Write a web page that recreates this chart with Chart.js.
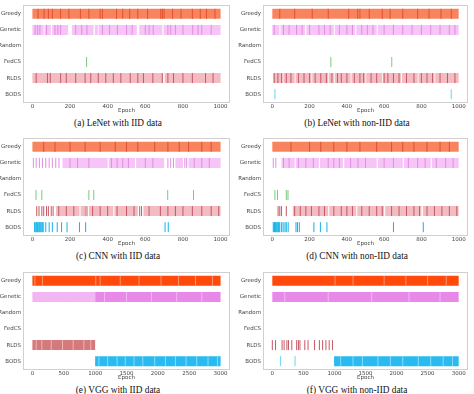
<!DOCTYPE html>
<html>
<head>
<meta charset="utf-8">
<script src="https://cdn.jsdelivr.net/npm/chart.js@4.4.1/dist/chart.umd.min.js"></script>
<style>
  body { margin: 0; background: #fff; width: 474px; height: 394px; overflow: hidden; position: relative; }
  canvas { position: absolute; }
  .cap { position: absolute; width: 220px; text-align: center; font-family: "Liberation Serif", serif; font-size: 9.3px; line-height: 11px; color: #111; }
</style>
</head>
<body>
<canvas id="a" style="left:0;top:-1px" width="236" height="115"></canvas>
<canvas id="b" style="left:237px;top:-1px" width="237" height="115"></canvas>
<canvas id="c" style="left:0;top:132px" width="236" height="115"></canvas>
<canvas id="d" style="left:237px;top:132px" width="237" height="115"></canvas>
<canvas id="e" style="left:0;top:266px" width="236" height="115"></canvas>
<canvas id="f" style="left:237px;top:266px" width="237" height="115"></canvas>
<div class="cap" style="left:8px;top:118px">(a) LeNet with IID data</div>
<div class="cap" style="left:247px;top:118px">(b) LeNet with non-IID data</div>
<div class="cap" style="left:8px;top:251px">(c) CNN with IID data</div>
<div class="cap" style="left:247px;top:251px">(d) CNN with non-IID data</div>
<div class="cap" style="left:8px;top:385px">(e) VGG with IID data</div>
<div class="cap" style="left:247px;top:385px">(f) VGG with non-IID data</div>
<script>
const methods = ["Greedy", "Genetic", "Random", "FedCS", "RLDS", "BODS"];
const epochTicks1000 = [0, 200, 400, 600, 800, 1000];
const epochTicks3000 = [0, 500, 1000, 1500, 2000, 2500, 3000];

// (a) LeNet, IID
const aGreedyBands = [[0, 1000]];
const aGreedyTicks = [30, 62, 85, 106, 150, 194, 255, 300, 360, 372, 447, 480, 517, 560, 612, 682, 691, 700, 745, 790, 850, 892, 925, 970];
const aGeneticBands = [[0, 60], [64, 98], [104, 190], [210, 325], [332, 348], [352, 555], [568, 690], [697, 1000]];
const aGeneticTicks = [15, 28, 40, 75, 120, 135, 150, 230, 262, 290, 372, 410, 452, 500, 530, 600, 620, 642, 720, 735, 760, 800, 852, 880, 900, 950];
const aFedcsTicks = [288];
const aRldsBands = [[0, 695], [703, 1000]];
const aRldsTicks = [20, 80, 95, 150, 180, 230, 280, 310, 350, 390, 430, 470, 520, 560, 590, 640, 690, 720, 750, 800, 850, 920, 960];

// (b) LeNet, non-IID
const bGreedyBands = [[0, 1000]];
const bGreedyTicks = [40, 120, 214, 300, 410, 458, 470, 520, 590, 632, 700, 780, 841, 905, 960];
const bGeneticBands = [[0, 38], [44, 176], [183, 330], [336, 445], [451, 560], [566, 1000]];
const bGeneticTicks = [10, 60, 90, 130, 160, 200, 250, 280, 310, 360, 400, 430, 480, 510, 540, 600, 650, 700, 750, 800, 850, 900, 950, 980];
const bFedcsTicks = [314, 641];
const bRldsBands = [[5, 55], [59, 120], [125, 210], [214, 300], [304, 330], [335, 420], [425, 500], [504, 590], [594, 690], [695, 780], [784, 870], [874, 1000]];
const bRldsTicks = [10, 30, 50, 75, 100, 140, 170, 200, 230, 260, 290, 320, 350, 370, 400, 440, 470, 490, 530, 560, 600, 620, 650, 680, 720, 760, 800, 830, 860, 900, 940, 980];
const bBodsTicks = [14, 960];

// (c) CNN, IID
const cGreedyBands = [[0, 1000]];
const cGreedyTicks = [60, 120, 200, 280, 360, 440, 500, 560, 650, 720, 780, 830, 900, 950];
const cGeneticBands = [[160, 400], [406, 545], [551, 700], [760, 800], [830, 1000]];
const cGeneticTicks = [5, 20, 37, 54, 71, 89, 106, 124, 141, 200, 240, 300, 420, 450, 480, 510, 600, 640, 720, 735, 750, 810, 820, 860, 900, 940];
const cFedcsTicks = [19, 50, 300, 326, 719, 856];
const cRldsBands = [[125, 250], [256, 275], [300, 430], [436, 560], [590, 1000]];
const cRldsTicks = [23, 35, 50, 60, 75, 85, 100, 110, 140, 180, 220, 280, 290, 320, 360, 400, 450, 500, 540, 570, 580, 620, 680, 720, 760, 800, 850, 900, 950, 990];
const cBodsBands = [[10, 62]];
const cBodsTicks = [12, 20, 28, 36, 45, 55, 71, 89, 106, 132, 155, 184, 250, 283, 705, 722];

// (d) CNN, non-IID
const dGreedyBands = [[0, 1000]];
const dGreedyTicks = [100, 200, 260, 330, 400, 470, 560, 640, 700, 760, 830, 900, 950];
const dGeneticBands = [[49, 120], [126, 250], [256, 380], [386, 560], [566, 700], [706, 850], [856, 1000]];
const dGeneticTicks = [5, 19, 60, 90, 140, 180, 220, 300, 330, 360, 420, 460, 500, 600, 650, 730, 780, 820, 880, 930, 970];
const dFedcsTicks = [14, 28, 75, 84];
const dRldsBands = [[110, 300], [306, 450], [456, 600], [606, 800], [808, 1000]];
const dRldsTicks = [31, 40, 49, 75, 120, 150, 180, 210, 250, 280, 330, 370, 400, 430, 480, 520, 560, 590, 640, 680, 720, 760, 790, 830, 870, 910, 950, 990];
const dBodsBands = [[5, 40]];
const dBodsTicks = [5, 12, 18, 25, 32, 40, 50, 58, 68, 75, 85, 127, 135, 145, 223, 258, 293, 650, 810];

// (e) VGG, IID
const eGreedyBands = [[0, 3000]];
const eGreedyLight = [40, 160, 1010, 1080, 1400, 1700, 2050, 2330, 2600, 2870];
const eGeneticLightBands = [[0, 1000]];
const eGeneticBands = [[1000, 3000]];
const eGeneticLight = [30, 120, 260, 420, 600, 780, 1150, 1500, 1900, 2300, 2700];
const eRldsBands = [[0, 1000]];
const eRldsLight = [60, 150, 300, 480, 650, 820, 930];
const eBodsBands = [[1000, 3000]];
const eBodsLight = [1060, 1200, 1350, 1480, 1620, 1760, 1950, 2120, 2280, 2450, 2620, 2800, 2950];

// (f) VGG, non-IID
const fGreedyBands = [[0, 3000]];
const fGreedyLight = [1010, 1300, 1800, 2150, 2500, 2800];
const fGeneticBands = [[0, 3000]];
const fGeneticLight = [200, 900, 1600, 2200, 2700];
const fRldsTicks = [0, 52, 157, 190, 235, 260, 314, 392, 420, 445, 523, 575, 680, 758, 810, 863, 915, 968];
const fBodsBands = [[994, 3000]];
const fBodsTicks = [130, 366];
const fBodsLight = [1100, 1300, 1450, 1700, 1900, 2100, 2350, 2550, 2750, 2900];

const col = {
    greedy: "rgb(248,132,95)", greedyDark: "rgb(222,82,44)",
    genetic: "rgb(246,196,246)", geneticDark: "rgb(226,140,226)",
    fedcs: "rgb(120,205,120)",
    rlds: "rgb(242,188,194)", rldsDark: "rgb(198,88,100)",
    bods: "rgb(110,210,242)", bodsDark: "rgb(20,178,232)",
    greedyVgg: "rgb(255,74,12)", greedyVggLight: "rgb(255,150,110)",
    geneticVgg: "rgb(232,136,232)", geneticVggLight: "rgb(242,182,242)",
    rldsVgg: "rgb(212,122,124)", rldsVggLight: "rgb(238,180,182)",
    bodsVgg: "rgb(40,186,240)", bodsVggLight: "rgb(140,218,246)"
};

function bandSet(row, bands, color) {
    const pts = [];
    bands.forEach(([s, e]) => pts.push({ x: s, y: row }, { x: e, y: row }, { x: e, y: null }));
    return { type: "line", order: 2, data: pts, borderColor: color, borderWidth: 10, borderCapStyle: "butt",
             pointRadius: 0, spanGaps: false, fill: false, tension: 0 };
}

function tickSet(row, ticks, color) {
    return { type: "scatter", order: 1, data: ticks.map(x => ({ x: x, y: row })), showLine: false,
             pointStyle: "line", pointRotation: 90, pointRadius: 5, pointBorderColor: color,
             pointBorderWidth: 1, pointBackgroundColor: color };
}

const framePlugin = {
    id: "frame",
    beforeDatasetsDraw(chart) {
        const { left, top, right, bottom } = chart.chartArea;
        const ctx = chart.ctx;
        ctx.save();
        ctx.strokeStyle = "#cfcfcf";
        ctx.lineWidth = 1;
        ctx.strokeRect(Math.round(left) + 0.5, Math.round(top) + 0.5, Math.round(right - left) - 1, Math.round(bottom - top) - 1);
        ctx.restore();
    }
};

const small = { family: "DejaVu Sans", size: 5.5 };

function makeChart(id, xMax, xTicks, yWidth, padRight, datasets) {
    return new Chart(document.getElementById(id), {
        type: "scatter",
        data: { datasets: datasets },
        options: {
            responsive: false,
            animation: false,
            events: [],
            layout: { padding: { top: 1, right: padRight, left: 0, bottom: 0 } },
            plugins: { legend: { display: false }, tooltip: { enabled: false } },
            scales: {
                x: {
                    type: "linear", min: -0.05 * xMax, max: 1.05 * xMax,
                    grid: { display: false, drawTicks: false }, border: { display: false },
                    afterBuildTicks: s => { s.ticks = xTicks.map(v => ({ value: v })); },
                    afterFit: s => { s.height = 11; },
                    ticks: { font: small, color: "#444", padding: 0, maxRotation: 0, callback: v => String(v) },
                    title: { display: true, text: "Epoch", font: small, color: "#444", padding: 0 }
                },
                y: {
                    type: "linear", reverse: true, min: -0.55, max: 5.55,
                    grid: { display: false, drawTicks: false }, border: { display: false },
                    afterBuildTicks: s => { s.ticks = methods.map((m, i) => ({ value: i })); },
                    afterFit: s => { s.width = yWidth; },
                    ticks: { font: small, color: "#444", padding: 2, callback: v => methods[v] }
                }
            }
        },
        plugins: [framePlugin]
    });
}

makeChart("a", 1000, epochTicks1000, 23, 2.5, [
    bandSet(0, aGreedyBands, col.greedy), tickSet(0, aGreedyTicks, col.greedyDark),
    bandSet(1, aGeneticBands, col.genetic), tickSet(1, aGeneticTicks, col.geneticDark),
    tickSet(3, aFedcsTicks, col.fedcs),
    bandSet(4, aRldsBands, col.rlds), tickSet(4, aRldsTicks, col.rldsDark)
]);

makeChart("b", 1000, epochTicks1000, 26, 0.5, [
    bandSet(0, bGreedyBands, col.greedy), tickSet(0, bGreedyTicks, col.greedyDark),
    bandSet(1, bGeneticBands, col.genetic), tickSet(1, bGeneticTicks, col.geneticDark),
    tickSet(3, bFedcsTicks, col.fedcs),
    bandSet(4, bRldsBands, col.rlds), tickSet(4, bRldsTicks, col.rldsDark),
    tickSet(5, bBodsTicks, col.bods)
]);

makeChart("c", 1000, epochTicks1000, 23, 2.5, [
    bandSet(0, cGreedyBands, col.greedy), tickSet(0, cGreedyTicks, col.greedyDark),
    bandSet(1, cGeneticBands, col.genetic), tickSet(1, cGeneticTicks, col.geneticDark),
    tickSet(3, cFedcsTicks, col.fedcs),
    bandSet(4, cRldsBands, col.rlds), tickSet(4, cRldsTicks, col.rldsDark),
    bandSet(5, cBodsBands, col.bods), tickSet(5, cBodsTicks, col.bodsDark)
]);

makeChart("d", 1000, epochTicks1000, 26, 0.5, [
    bandSet(0, dGreedyBands, col.greedy), tickSet(0, dGreedyTicks, col.greedyDark),
    bandSet(1, dGeneticBands, col.genetic), tickSet(1, dGeneticTicks, col.geneticDark),
    tickSet(3, dFedcsTicks, col.fedcs),
    bandSet(4, dRldsBands, col.rlds), tickSet(4, dRldsTicks, col.rldsDark),
    bandSet(5, dBodsBands, col.bods), tickSet(5, dBodsTicks, col.bodsDark)
]);

makeChart("e", 3000, epochTicks3000, 23, 2.5, [
    bandSet(0, eGreedyBands, col.greedyVgg), tickSet(0, eGreedyLight, col.greedyVggLight),
    bandSet(1, eGeneticLightBands, col.geneticVggLight), bandSet(1, eGeneticBands, col.geneticVgg),
    tickSet(1, eGeneticLight, col.geneticVggLight),
    bandSet(4, eRldsBands, col.rldsVgg), tickSet(4, eRldsLight, col.rldsVggLight),
    bandSet(5, eBodsBands, col.bodsVgg), tickSet(5, eBodsLight, col.bodsVggLight)
]);

makeChart("f", 3000, epochTicks3000, 26, 0.5, [
    bandSet(0, fGreedyBands, col.greedyVgg), tickSet(0, fGreedyLight, col.greedyVggLight),
    bandSet(1, fGeneticBands, col.geneticVgg), tickSet(1, fGeneticLight, col.geneticVggLight),
    tickSet(4, fRldsTicks, col.rldsDark),
    bandSet(5, fBodsBands, col.bodsVgg), tickSet(5, fBodsTicks, col.bods), tickSet(5, fBodsLight, col.bodsVggLight)
]);
</script>
</body>
</html>
